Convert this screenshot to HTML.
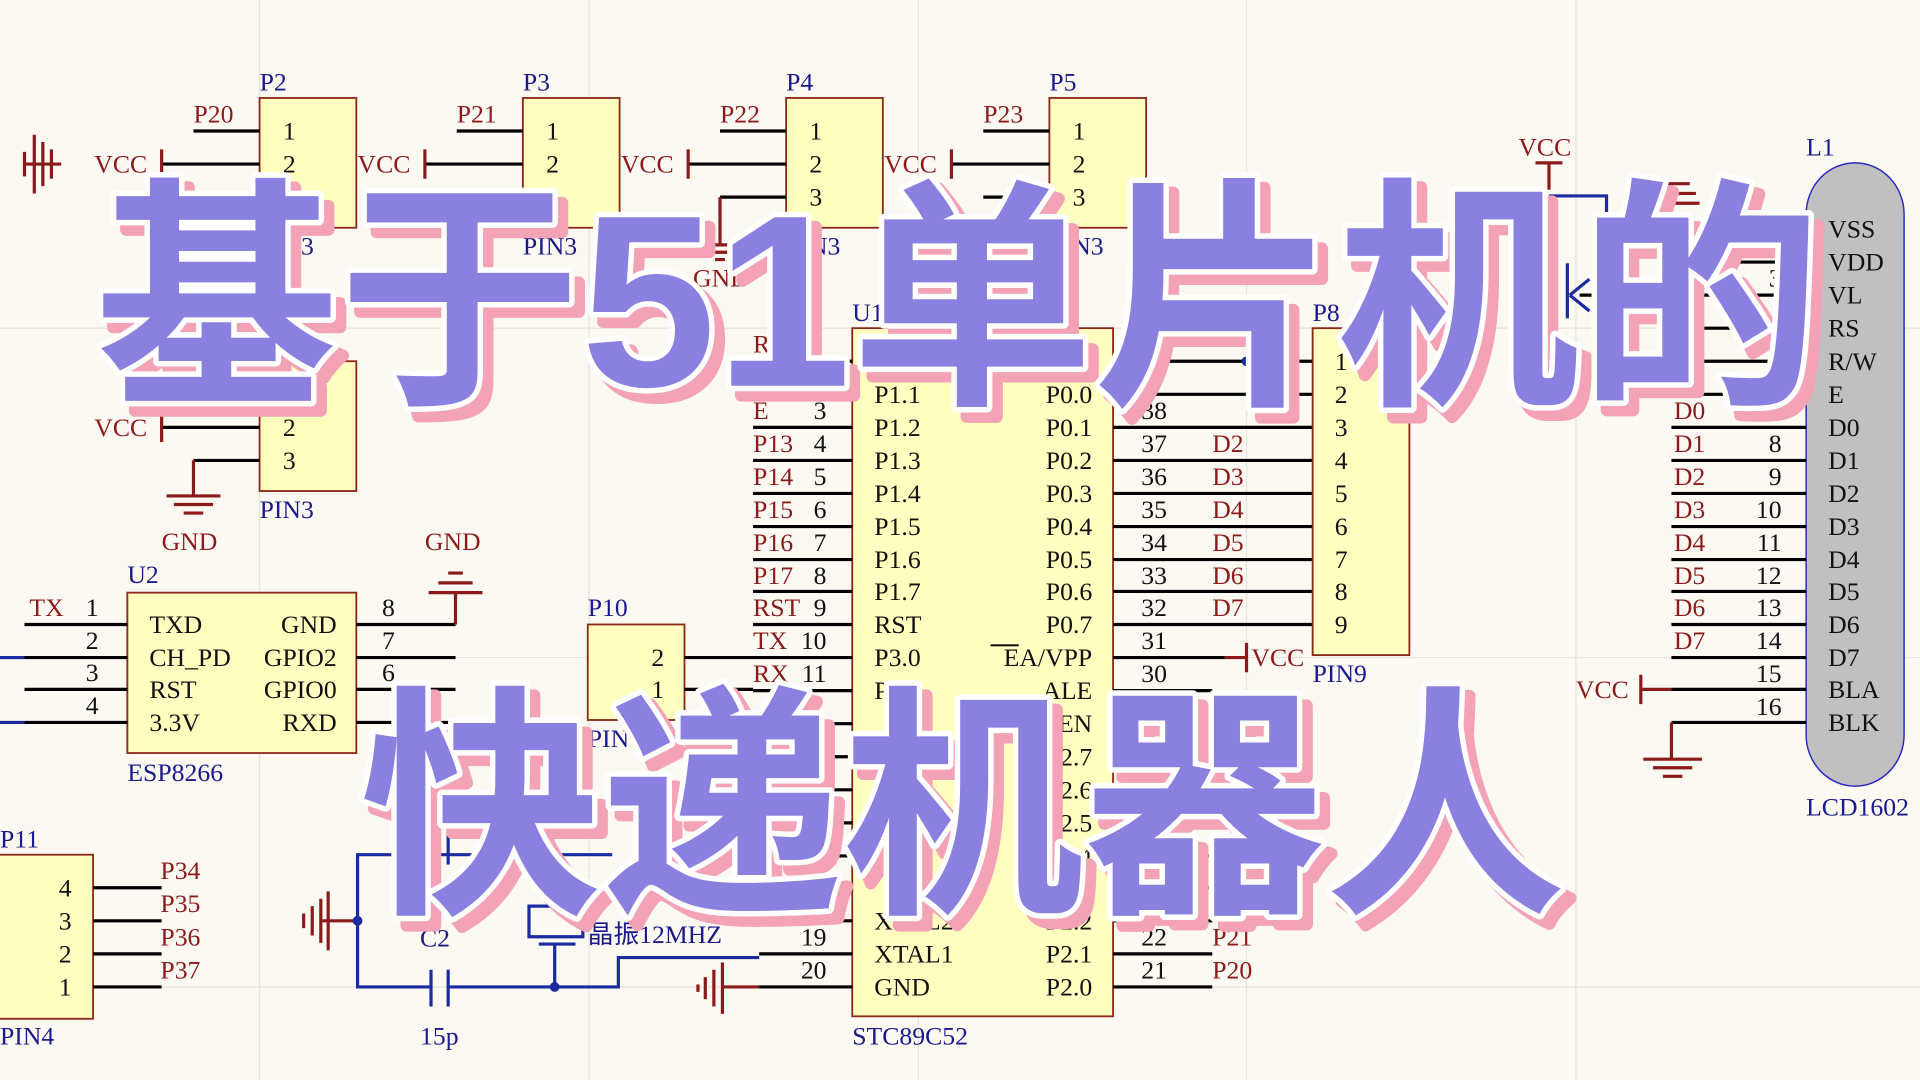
<!DOCTYPE html>
<html><head><meta charset="utf-8"><style>
html,body{margin:0;padding:0;background:#fbf9f2;}
svg{display:block}
.t{font-family:"Liberation Serif",serif;font-size:21px;}
.k{fill:#111}.r{fill:#8b1a1a}.b{fill:#1a1a8c}
.w{stroke:#000;stroke-width:2.6;fill:none}
.rw{stroke:#8b1a1a;stroke-width:2.6;fill:none}
.bw{stroke:#1a2aa0;stroke-width:2.6;fill:none}
.box{fill:#ffffc0;stroke:#8b2a1a;stroke-width:1.5}
.big{font-family:"Liberation Sans","Noto Sans CJK SC",sans-serif;font-weight:bold;font-size:200px;}
</style></head><body>
<svg width="1920" height="1080" viewBox="0 0 1568 882" preserveAspectRatio="none" xmlns="http://www.w3.org/2000/svg">
<rect width="1568" height="882" fill="#fbf9f2"/>
<g stroke="#e6e4dc" stroke-width="1">
<path d="M212 0V882M481 0V882M750 0V882M1018 0V882M1287 0V882M0 268H1568M0 537H1568M0 806H1568"/>
</g>
<!-- top-left ground -->
<path class="rw" d="M50 134H20M35 116V152M42 122V146M28 110V158M20 124V144"/>
<!-- P2..P5 -->
<g class="t">
<rect class="box" x="212" y="80" width="79" height="106"/><rect class="box" x="427" y="80" width="79" height="106"/><rect class="box" x="642" y="80" width="79" height="106"/><rect class="box" x="857" y="80" width="79" height="106"/>
<path class="w" d="M158 107H212M158 161H212M373 107H427M373 161H427M588 107H642M588 161H642M803 107H857M803 161H857M132 134H212M347 134H427M562 134H642M777 134H857"/>
<path class="rw" d="M132 122V146M347 122V146M562 122V146M777 122V146M588 161V200M574 200H602M578 206H598M584 212H592"/>
<text class="b" x="212" y="74">P2</text><text class="b" x="427" y="74">P3</text><text class="b" x="642" y="74">P4</text><text class="b" x="857" y="74">P5</text>
<text class="r" x="158" y="100">P20</text><text class="r" x="373" y="100">P21</text><text class="r" x="588" y="100">P22</text><text class="r" x="803" y="100">P23</text>
<text class="r" x="77" y="141">VCC</text><text class="r" x="292" y="141">VCC</text><text class="r" x="507" y="141">VCC</text><text class="r" x="722" y="141">VCC</text>
<g class="k"><text x="231" y="114">1</text><text x="231" y="141">2</text><text x="231" y="168">3</text><text x="446" y="114">1</text><text x="446" y="141">2</text><text x="446" y="168">3</text><text x="661" y="114">1</text><text x="661" y="141">2</text><text x="661" y="168">3</text><text x="876" y="114">1</text><text x="876" y="141">2</text><text x="876" y="168">3</text></g>
<text class="b" x="212" y="208">PIN3</text><text class="b" x="427" y="208">PIN3</text><text class="b" x="642" y="208">PIN3</text><text class="b" x="857" y="208">PIN3</text>
<text class="r" x="566" y="234">GND</text>
<!-- second P box -->
<rect class="box" x="212" y="295" width="79" height="106"/>
<path class="w" d="M132 349H212M158 376H212"/>
<path class="rw" d="M132 337V361M158 376V405M136 405H180M142 412H174M150 419H166"/>
<text class="r" x="77" y="356">VCC</text><text class="k" x="231" y="356">2</text><text class="k" x="231" y="383">3</text>
<text class="b" x="212" y="423">PIN3</text><text class="r" x="132" y="449">GND</text>
<!-- U2 -->
<rect class="box" x="104" y="484" width="187" height="131"/>
<path class="w" d="M20 510H104M20 537H104M20 563H104M20 590H104M291 510H372M291 537H372M291 563H372M291 590H372"/>
<path class="bw" d="M0 537H20M0 590H20"/>
<path class="rw" d="M372 510V484M350 484H394M358 476H386M366 468H378"/>
<text class="r" x="347" y="449">GND</text>
<text class="b" x="104" y="476">U2</text><text class="r" x="24" y="503">TX</text>
<g class="k"><text x="70" y="503">1</text><text x="70" y="530">2</text><text x="70" y="556">3</text><text x="70" y="583">4</text><text x="312" y="503">8</text><text x="312" y="530">7</text><text x="312" y="556">6</text>
<text x="122" y="517">TXD</text><text x="122" y="544">CH_PD</text><text x="122" y="570">RST</text><text x="122" y="597">3.3V</text>
<text x="275" y="517" text-anchor="end">GND</text><text x="275" y="544" text-anchor="end">GPIO2</text><text x="275" y="570" text-anchor="end">GPIO0</text><text x="275" y="597" text-anchor="end">RXD</text></g>
<text class="b" x="104" y="638">ESP8266</text>
<!-- P10 -->
<rect class="box" x="480" y="510" width="79" height="78"/>
<path class="w" d="M559 537H615M559 563H615"/>
<text class="b" x="480" y="503">P10</text><text class="k" x="532" y="544">2</text><text class="k" x="532" y="570">1</text><text class="b" x="480" y="610">PIN</text>
<!-- P11 -->
<rect class="box" x="-5" y="698" width="81" height="134"/>
<path class="w" d="M76 725H132M76 752H132M76 779H132M76 806H132"/>
<text class="b" x="0" y="692">P11</text>
<g class="k"><text x="48" y="732">4</text><text x="48" y="759">3</text><text x="48" y="786">2</text><text x="48" y="813">1</text></g>
<g class="r"><text x="131" y="718">P34</text><text x="131" y="745">P35</text><text x="131" y="772">P36</text><text x="131" y="799">P37</text></g>
<text class="b" x="0" y="853">PIN4</text>
<!-- crystal -->
<path class="bw" d="M292 752V698H360M292 752V806H352M366 806H505V782H620M453 806V772M432 740H476V765H432ZM440 771H470M360 698H500"/>
<path class="bw" d="M352 792V822M366 792V822M352 676V706M366 676V706"/>
<path class="rw" d="M292 752H262M262 734V770M255 740V764M248 746V758M268 728V776M620 806H590M590 786V828M583 792V822M576 798V816M570 804V810"/>
<circle cx="292" cy="752" r="4" fill="#1a2aa0"/><circle cx="453" cy="806" r="4" fill="#1a2aa0"/>
<text class="b" x="343" y="773">C2</text><text class="b" x="343" y="853">15p</text><text class="b" x="480" y="770">晶振12MHZ</text>
<!-- U1 -->
<rect class="box" x="696" y="268" width="213" height="562"/>
<path class="w" d="M615 295H696M615 322H696M615 349H696M615 376H696M615 403H696M615 430H696M615 457H696M615 483H696M615 510H696M615 537H696M615 564H696M615 591H696M615 618H696M615 645H696M615 672H696M615 699H696M620 725H696M620 752H696M620 779H696M620 806H696"/>
<path class="w" d="M909 295H1072M909 322H1072M909 349H1072M909 376H1072M909 403H1072M909 430H1072M909 457H1072M909 483H1072M909 510H1072M909 537H1000M909 564H990M909 591H990M909 618H990M909 645H990M909 672H990M909 699H990M909 725H990M909 752H990M909 779H990M909 806H990"/>
<path class="rw" d="M1000 537H1018M1018 525V549"/>
<circle cx="1018" cy="295" r="4" fill="#1a2aa0"/>
<text class="b" x="696" y="262">U1</text><text class="b" x="696" y="853">STC89C52</text>
<g class="k">
<text x="714" y="329">P1.1</text><text x="714" y="356">P1.2</text><text x="714" y="383">P1.3</text><text x="714" y="410">P1.4</text><text x="714" y="437">P1.5</text><text x="714" y="464">P1.6</text><text x="714" y="490">P1.7</text><text x="714" y="517">RST</text><text x="714" y="544">P3.0</text><text x="714" y="571">P3.1</text><text x="714" y="759">XTAL2</text><text x="714" y="786">XTAL1</text><text x="714" y="813">GND</text>
<g text-anchor="end"><text x="892" y="329">P0.0</text><text x="892" y="356">P0.1</text><text x="892" y="383">P0.2</text><text x="892" y="410">P0.3</text><text x="892" y="437">P0.4</text><text x="892" y="464">P0.5</text><text x="892" y="490">P0.6</text><text x="892" y="517">P0.7</text><text x="892" y="544">EA/VPP</text><text x="892" y="571">ALE</text><text x="892" y="598">PSEN</text><text x="892" y="625">P2.7</text><text x="892" y="652">P2.6</text><text x="892" y="679">P2.5</text><text x="892" y="706">P2.4</text><text x="892" y="732">P2.3</text><text x="892" y="759">P2.2</text><text x="892" y="786">P2.1</text><text x="892" y="813">P2.0</text></g>
<g text-anchor="end"><text x="675" y="342">3</text><text x="675" y="369">4</text><text x="675" y="396">5</text><text x="675" y="423">6</text><text x="675" y="450">7</text><text x="675" y="477">8</text><text x="675" y="503">9</text><text x="675" y="530">10</text><text x="675" y="557">11</text><text x="675" y="745">18</text><text x="675" y="772">19</text><text x="675" y="799">20</text></g>
<text x="932" y="342">38</text><text x="932" y="369">37</text><text x="932" y="396">36</text><text x="932" y="423">35</text><text x="932" y="450">34</text><text x="932" y="477">33</text><text x="932" y="503">32</text><text x="932" y="530">31</text><text x="932" y="557">30</text><text x="932" y="772">22</text><text x="932" y="799">21</text>
</g>
<path d="M809 527H832" stroke="#000" stroke-width="1.5"/>
<g class="r"><text x="615" y="288">R</text><text x="615" y="342">E</text><text x="615" y="369">P13</text><text x="615" y="396">P14</text><text x="615" y="423">P15</text><text x="615" y="450">P16</text><text x="615" y="477">P17</text><text x="615" y="503">RST</text><text x="615" y="530">TX</text><text x="615" y="557">RX</text>
<text x="990" y="369">D2</text><text x="990" y="396">D3</text><text x="990" y="423">D4</text><text x="990" y="450">D5</text><text x="990" y="477">D6</text><text x="990" y="503">D7</text><text x="990" y="772">P21</text><text x="990" y="799">P20</text></g>
<text class="r" x="1022" y="544">VCC</text>
<!-- P8 -->
<rect class="box" x="1072" y="268" width="79" height="267"/>
<text class="b" x="1072" y="262">P8</text><text class="b" x="1072" y="557">PIN9</text>
<g class="k"><text x="1090" y="302">1</text><text x="1090" y="329">2</text><text x="1090" y="356">3</text><text x="1090" y="383">4</text><text x="1090" y="410">5</text><text x="1090" y="437">6</text><text x="1090" y="464">7</text><text x="1090" y="490">8</text><text x="1090" y="517">9</text></g>
<!-- LCD -->
<path d="M1475 175A40 42 0 0 1 1555 175V600A40 42 0 0 1 1475 600Z" fill="#c0c0c0" stroke="#2a2ac0" stroke-width="1.2"/>
<path class="w" d="M1365 187H1475M1365 214H1475M1365 241H1475M1365 268H1475M1365 295H1475M1365 322H1475M1365 349H1475M1365 376H1475M1365 403H1475M1365 430H1475M1365 457H1475M1365 483H1475M1365 510H1475M1365 537H1475M1365 563H1475M1365 590H1475M1290 241H1365"/>
<path class="rw" d="M1340 551V575M1340 563H1365M1365 590V620M1342 620H1390M1350 627H1382M1358 634H1374M1265 133V155M1254 133H1276M1380 150H1360M1385 158H1365M1388 166H1368"/>
<path class="bw" d="M1265 160H1312V190M1280 215V260M1282 241L1298 228M1282 241L1298 254"/>
<text class="r" x="1240" y="127">VCC</text><text class="r" x="1287" y="570">VCC</text>
<text class="b" x="1475" y="127">L1</text><text class="b" x="1475" y="666">LCD1602</text>
<g class="k"><text x="1493" y="194">VSS</text><text x="1493" y="221">VDD</text><text x="1493" y="248">VL</text><text x="1493" y="275">RS</text><text x="1493" y="302">R/W</text><text x="1493" y="329">E</text><text x="1493" y="356">D0</text><text x="1493" y="383">D1</text><text x="1493" y="410">D2</text><text x="1493" y="437">D3</text><text x="1493" y="464">D4</text><text x="1493" y="490">D5</text><text x="1493" y="517">D6</text><text x="1493" y="544">D7</text><text x="1493" y="570">BLA</text><text x="1493" y="597">BLK</text>
<g text-anchor="end"><text x="1455" y="234">3</text><text x="1455" y="369">8</text><text x="1455" y="396">9</text><text x="1455" y="423">10</text><text x="1455" y="450">11</text><text x="1455" y="477">12</text><text x="1455" y="503">13</text><text x="1455" y="530">14</text><text x="1455" y="557">15</text><text x="1455" y="584">16</text></g></g>
<g class="r"><text x="1367" y="342">D0</text><text x="1367" y="369">D1</text><text x="1367" y="396">D2</text><text x="1367" y="423">D3</text><text x="1367" y="450">D4</text><text x="1367" y="477">D5</text><text x="1367" y="503">D6</text><text x="1367" y="530">D7</text></g>
</g>
<!-- Title -->
<g class="big" paint-order="stroke" stroke-linejoin="round">
<text x="86" y="323" fill="#f3a3b5" stroke="#f3a3b5" stroke-width="10" textLength="1410" lengthAdjust="spacingAndGlyphs">基于51单片机的</text>
<text x="78" y="315" fill="#8a80e0" stroke="#ffffff" stroke-width="9" textLength="1410" lengthAdjust="spacingAndGlyphs">基于51单片机的</text>
<text x="302" y="738" fill="#f3a3b5" stroke="#f3a3b5" stroke-width="10" textLength="985" lengthAdjust="spacingAndGlyphs">快递机器人</text>
<text x="294" y="730" fill="#8a80e0" stroke="#ffffff" stroke-width="9" textLength="985" lengthAdjust="spacingAndGlyphs">快递机器人</text>
</g>
</svg>
</body></html>
